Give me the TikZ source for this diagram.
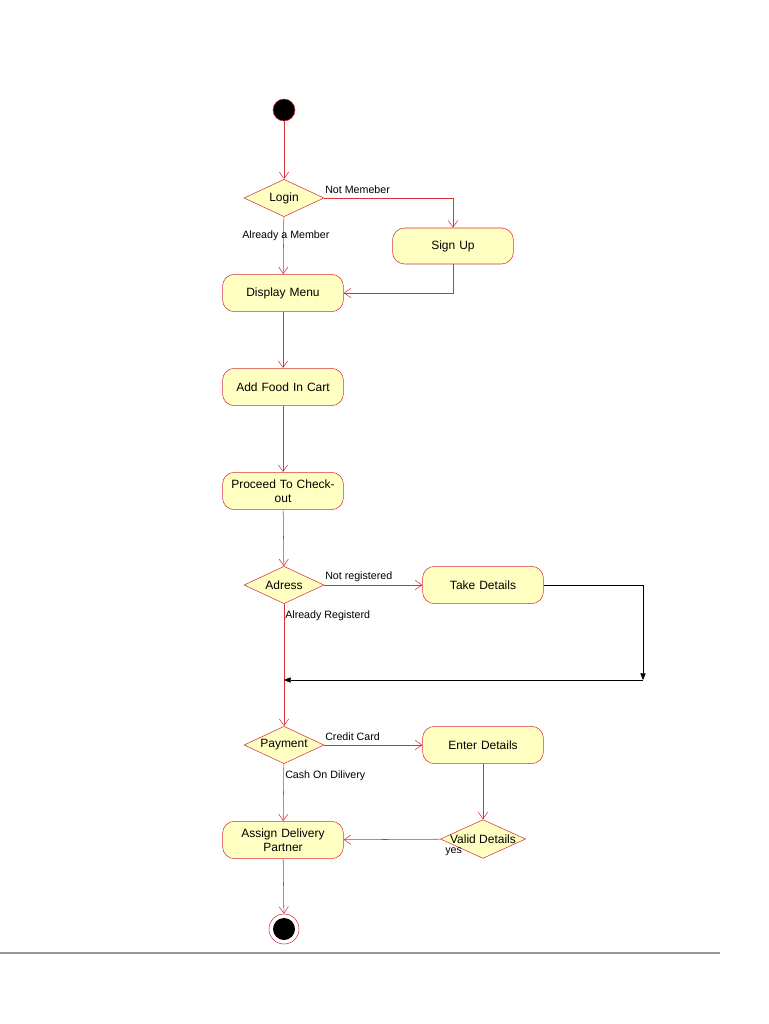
\documentclass[tikz,border=0pt]{standalone}
\usepackage{fontspec}
\setmainfont{Liberation Sans}
\usetikzlibrary{shapes.geometric,arrows.meta}
\definecolor{fillc}{HTML}{FFFFC2}
\definecolor{linec}{HTML}{D9303A}
\begin{document}
\begin{tikzpicture}[x=0.75pt,y=-0.75pt,
  act/.style={draw=linec,fill=fillc,rounded corners=9pt,minimum width=90pt,minimum height=28pt,align=center,font=\fontsize{9}{10.5}\selectfont,text width=84pt},
  dec/.style={draw=linec,fill=fillc,diamond,aspect=2.2,minimum width=60pt,minimum height=28pt,inner sep=0pt,font=\fontsize{9}{10}\selectfont},
  flow/.style={draw=linec,-{Straight Barb[length=5pt,width=7pt]}},
  bflow/.style={draw=black,-{Triangle[length=5pt,width=4pt]}},
  lbl/.style={font=\fontsize{8}{9}\selectfont,inner sep=0pt}]
\useasboundingbox (0,0) rectangle (768,1024);
\fill[white] (0,0) rectangle (768,1024);
\draw[gray!80,line width=1pt] (0,953) -- (720,953);
\node[circle,fill=black,draw=linec,minimum size=16.5pt,inner sep=0pt] (start) at (284,110) {};
\node[dec] (login) at (284,198) {Login};
\node[act,minimum height=27pt] (signup) at (453,246) {Sign Up};
\node[act] (menu) at (283,293) {Display Menu};
\node[act] (cart) at (283,387) {Add Food In Cart};
\node[act] (check) at (283,491) {Proceed To Check-\\out};
\node[dec] (adr) at (284,585) {Adress};
\node[act] (take) at (483,585) {Take Details};
\coordinate (c1) at (643,585);
\coordinate (c2) at (643,680);
\coordinate (c3) at (284,680);
\node[dec] (pay) at (284,745) {Payment};
\node[act] (enter) at (483,745) {Enter Details};
\node[dec] (valid) at (483,839) {Valid Details};
\node[act] (assign) at (283,840) {Assign Delivery\\Partner};
\node[circle,draw=linec,fill=white,minimum size=22.5pt,inner sep=0pt] (end) at (284,929) {};
\node[circle,fill=black,minimum size=16.5pt,inner sep=0pt] at (end) {};
\draw[flow] (start) -- (login);
\draw[flow] (login.east) -| (signup.north);
\draw[flow] (login) -- (menu);
\draw[flow] (signup.south) |- (menu.east);
\draw[flow] (menu) -- (cart);
\draw[flow] (cart) -- (check);
\draw[flow] (check) -- (adr);
\draw[flow] (adr) -- (take);
\draw[flow] (adr) -- (pay);
\draw[bflow] (take.east) -- (c1) -- (c2);
\draw[bflow] (c2) -- (c3);
\draw[flow] (pay) -- (enter);
\draw[flow] (pay) -- (assign);
\draw[flow] (enter) -- (valid);
\draw[flow] (valid) -- (assign);
\draw[flow] (assign) -- (end);
\node[lbl,anchor=west] at (325,190) {Not Memeber};
\node[lbl,anchor=west] at (242,236) {Already a Member};
\node[lbl,anchor=west] at (325,577) {Not registered};
\node[lbl,anchor=west] at (285,616) {Already Registerd};
\node[lbl,anchor=west] at (325,737) {Credit Card};
\node[lbl,anchor=west] at (285,776) {Cash On Dilivery};
\node[lbl,anchor=west] at (445,852) {yes};
\end{tikzpicture}
\end{document}
